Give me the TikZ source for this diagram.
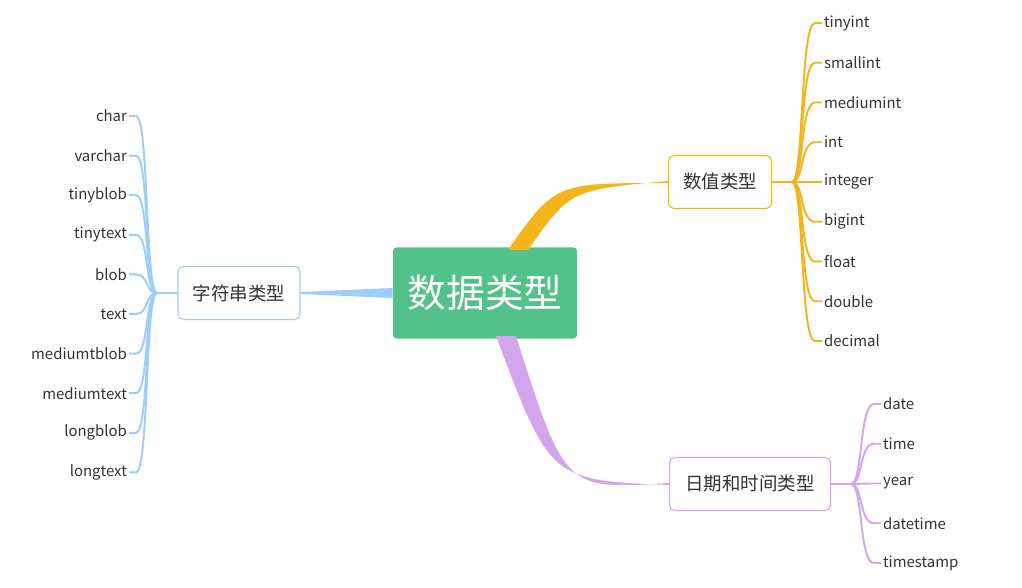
\documentclass[tikz,border=0pt]{standalone}
\usepackage{fontspec}
\setmainfont{Noto Sans CJK SC}
\usetikzlibrary{positioning}
\definecolor{rootgreen}{HTML}{52C28A}
\definecolor{numorange}{HTML}{F5B41A}
\definecolor{datepurple}{HTML}{D3A6EC}
\definecolor{strblue}{HTML}{9DCDFD}
\definecolor{txtgray}{HTML}{333333}
\begin{document}
\begin{tikzpicture}[x=0.02cm,y=-0.02cm,
    root/.style = {fill=rootgreen, rounded corners=2pt, text=white,
                   minimum width=184*0.02cm, minimum height=91*0.02cm, font=\fontsize{22}{26}\selectfont},
    topic/.style = {draw, fill=white, rounded corners=3pt, text=txtgray, line width=0.6pt,
                    minimum height=53*0.02cm, inner xsep=6pt, font=\fontsize{10.5}{12}\selectfont},
    leaf/.style = {text=txtgray, inner sep=1pt, font=\fontsize{8.5}{10}\selectfont},
    twig/.style = {line width=1.1pt}]
  \useasboundingbox (0,0) rectangle (1022,588);
  % main nodes
  \node[root] (root) at (485,293) {数据类型};
  \node[topic, draw=numorange, minimum width=103*0.02cm] (num) at (720,182) {数值类型};
  \node[topic, draw=datepurple, minimum width=161*0.02cm] (date) at (750,484) {日期和时间类型};
  \node[topic, draw=strblue, minimum width=122*0.02cm] (str) at (239,293) {字符串类型};
  % thick connectors
  \fill[strblue] ([yshift=-5*0.02cm]root.west) -- ([yshift=-1*0.02cm]str.east)
    -- ([yshift=1*0.02cm]str.east) -- ([yshift=5*0.02cm]root.west) -- cycle;
  \fill[numorange] (508,250) .. controls (555,183) .. ([yshift=-1*0.02cm]num.west)
    -- ([yshift=1*0.02cm]num.west) .. controls (570,190) .. (528,250) -- cycle;
  \fill[datepurple] (496,336) .. controls (550,480) .. ([yshift=-1*0.02cm]date.west)
    -- ([yshift=1*0.02cm]date.west) .. controls (565,490) .. (516,336) -- cycle;
  % numeric leaves
  \coordinate (numfork) at (792,182);
  \draw[numorange, twig] (num.east) -- (numfork);
  \foreach \t [count=\i] in {tinyint,smallint,mediumint,int,integer,bigint,float,double,decimal} {
    \node[leaf, anchor=west] (n\i) at (822,23+39.75*\i-39.75) {\t};
    \draw[numorange, twig] (numfork) .. controls +(12,0) and (800,23+39.75*\i-39.75) .. (815,23+39.75*\i-39.75) -- (n\i.west);
  }
  % date leaves
  \coordinate (datefork) at (851,484);
  \draw[datepurple, twig] (date.east) -- (datefork);
  \foreach \t [count=\i] in {date,time,year,datetime,timestamp} {
    \node[leaf, anchor=west] (d\i) at (881,404+39.75*\i-39.75) {\t};
    \draw[datepurple, twig] (datefork) .. controls +(12,0) and (859,404+39.75*\i-39.75) .. (874,404+39.75*\i-39.75) -- (d\i.west);
  }
  % string leaves
  \coordinate (strfork) at (157,293);
  \draw[strblue, twig] (str.west) -- (strfork);
  \foreach \t [count=\i] in {char,varchar,tinyblob,tinytext,blob,text,mediumtblob,mediumtext,longblob,longtext} {
    \node[leaf, anchor=east] (s\i) at (129,116+39.6*\i-39.6) {\t};
    \draw[strblue, twig] (strfork) .. controls +(-12,0) and (149,116+39.6*\i-39.6) .. (136,116+39.6*\i-39.6) -- (s\i.east);
  }
\end{tikzpicture}
\end{document}
